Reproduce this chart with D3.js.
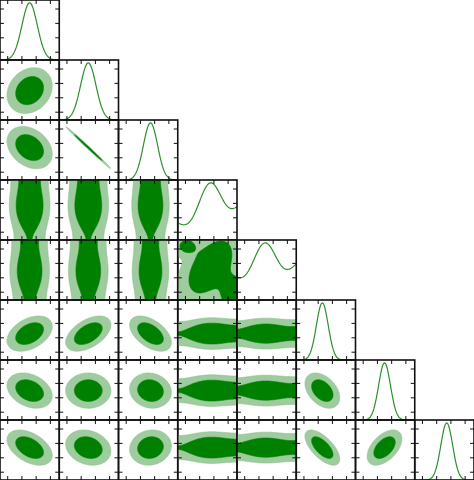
<!DOCTYPE html>
<html><head><meta charset="utf-8">
<script src="https://cdn.jsdelivr.net/npm/d3@7"></script>
<style>body{margin:0;background:#fff}svg{display:block}</style>
</head><body>
<svg id="c" width="474" height="480"></svg>
<script>
// marginal of each parameter as gaussian mixture, in panel units [0,1]
const margMeans = [[0.50], [0.49], [0.54], [0.55, -0.2, 1.2], [0.47, -0.3, 1.2], [0.44], [0.49], [0.54]];
const margSds   = [[0.13], [0.13], [0.12], [0.20, 0.25, 0.25], [0.20, 0.30, 0.30], [0.10], [0.10], [0.10]];
const margWts   = [[1], [1], [1], [1, 0.5, 0.9], [1, 0.9, 1.2], [1], [1], [1]];
// correlations between gaussian parameters: [row, col, rho]
const corr = [
  [1, 0, 0.2], [2, 0, -0.3], [2, 1, -0.997],
  [5, 0, 0.4], [5, 1, 0.5], [5, 2, -0.5],
  [6, 0, -0.3], [6, 1, 0.0], [6, 2, -0.1], [6, 5, -0.4],
  [7, 0, -0.45], [7, 1, -0.2], [7, 2, 0.1], [7, 5, -0.65], [7, 6, 0.5]
];
// irregular panel (row 4, col 3): [mx, my, sx, sy, rho, weight]
const special43 = [
  [0.55, 0.55, 0.25, 0.30, 0.5, 1.0],
  [0.95, 0.10, 0.15, 0.20, 0.0, 0.4],
  [0.15, 0.90, 0.12, 0.10, 0.0, 0.1]
];
const tickPos = [0.13, 0.37, 0.61, 0.85];
const levels = [0.95, 0.68];
const widen = 1.2; // 2D kernel is a bit broader than the 1D one

const N = 8, W = 474, H = 480, pw = W / N, ph = H / N;
const DARK = "#008000", LIGHT = "#9fcc9f", LINE = "#2f8f2f";
const svg = d3.select("#c");
const x = d3.scaleLinear().domain([0, 1]).range([0, pw]);
const y = d3.scaleLinear().domain([0, 1]).range([ph, 0]);

const g1 = (v, m, s) => Math.exp(-0.5 * ((v - m) / s) ** 2) / s;
const marg = (k, v, f = 1) => d3.sum(margMeans[k], (m, i) => margWts[k][i] * g1(v, m, margSds[k][i] * f));
const g2 = (a, b, mx, my, sx, sy, r) => {
  const u = (a - mx) / sx, w = (b - my) / sy;
  return Math.exp(-(u * u - 2 * r * u * w + w * w) / (2 * (1 - r * r))) / (sx * sy * Math.sqrt(1 - r * r));
};
function dens(i, j) {
  if (i === 4 && j === 3) return (a, b) => d3.sum(special43, c => c[5] * g2(a, b, c[0], c[1], c[2], c[3], c[4]));
  const c = corr.find(d => d[0] === i && d[1] === j);
  if (c) return (a, b) => g2(a, b, margMeans[j][0], margMeans[i][0], margSds[j][0] * widen, margSds[i][0] * widen, c[2]);
  return (a, b) => marg(j, a, widen) * marg(i, b, widen);
}

const G = 160, lo = -0.4, hi = 1.4, step = (hi - lo) / G;
svg.append("defs").append("clipPath").attr("id", "pc").append("rect").attr("width", pw).attr("height", ph);

for (let i = 0; i < N; i++) for (let j = 0; j <= i; j++) {
  const g = svg.append("g").attr("transform", `translate(${j * pw},${i * ph})`);
  const inner = g.append("g").attr("clip-path", "url(#pc)");
  if (i === j) {
    const xs = d3.range(0, 1.0001, 0.01);
    const ys = xs.map(v => marg(i, v));
    const ym = d3.scaleLinear().domain([0, d3.max(ys) * 1.05]).range([ph, 0]);
    inner.append("path").attr("fill", "none").attr("stroke", LINE).attr("stroke-width", 1.2)
      .attr("d", d3.line().x((d, k) => x(xs[k])).y(d => ym(d))(ys));
  } else {
    const f = dens(i, j), vals = new Float64Array(G * G);
    for (let b = 0; b < G; b++) for (let a = 0; a < G; a++)
      vals[b * G + a] = f(lo + (a + 0.5) * step, lo + (b + 0.5) * step);
    const sorted = Array.from(vals).sort((p, q) => q - p), tot = d3.sum(sorted);
    const thr = levels.map(L => { let acc = 0; for (const v of sorted) { acc += v; if (acc >= L * tot) return v; } return 0; });
    const cs = d3.contours().size([G, G]).thresholds(thr)(vals);
    const tr = d3.geoTransform({ point(px, py) { this.stream.point(x(lo + px * step), y(lo + py * step)); } });
    inner.selectAll("path").data(cs).join("path").attr("d", d3.geoPath(tr))
      .attr("fill", (d, k) => k === 0 ? LIGHT : DARK).attr("stroke", (d, k) => k === 0 ? "#8fc08f" : DARK).attr("stroke-width", 0.6);
  }
  // frame and inward ticks
  g.append("rect").attr("width", pw).attr("height", ph).attr("fill", "none").attr("stroke", "#111").attr("stroke-width", 1.6);
  const tl = 4;
  tickPos.forEach(t => {
    g.append("line").attr("x1", x(t)).attr("x2", x(t)).attr("y1", 0).attr("y2", tl);
    g.append("line").attr("x1", x(t)).attr("x2", x(t)).attr("y1", ph).attr("y2", ph - tl);
    g.append("line").attr("y1", y(t)).attr("y2", y(t)).attr("x1", 0).attr("x2", tl);
    g.append("line").attr("y1", y(t)).attr("y2", y(t)).attr("x1", pw).attr("x2", pw - tl);
  });
  g.selectAll("line").attr("stroke", "#111").attr("stroke-width", 1);
}
</script>
</body></html>
